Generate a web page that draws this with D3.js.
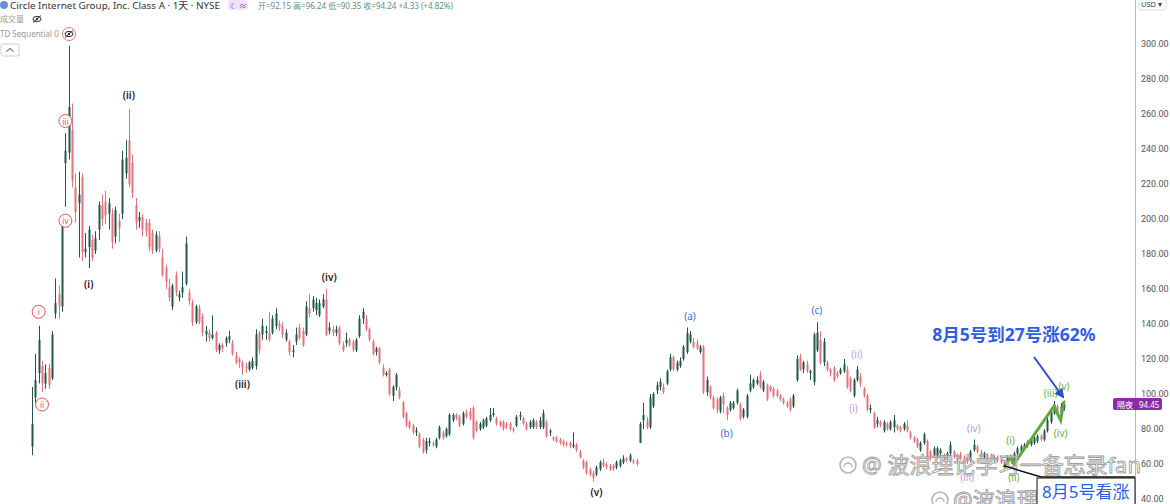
<!DOCTYPE html>
<html><head><meta charset="utf-8">
<script src="https://cdn.jsdelivr.net/npm/d3@7/dist/d3.min.js"></script>
<style>
html,body{margin:0;padding:0;background:#fff;overflow:hidden}
svg{display:block;font-family:"Noto Sans","Noto Sans CJK SC",sans-serif}
</style></head><body>
<svg id="c" width="1170" height="504"></svg>
<script>
// ---- data (daily OHLC) ----
const opens = [70,98,112,116,106,115,109,146,157,150,232,238,251,218,209,224,181,184,188,182,194,208,210,203,203,190,199,203,226,245,232,
208,199,201,198,198,192,182,190,178,172,161,150,168,155,158,163,158,152,141,149,144,134,135,132,135,125,128,129,131,129,122,
120,118,116,114,115,116,135,134,135,135,135,139,140,139,131,130,124,130,138,136,134,149,149,148,145,150,154,136,137,135,138,128,
129,131,130,125,133,143,143,137,130,124,126,115,111,114,99,104,102,95,89,84,82,78,77,74,68,72,72,70,75,78,76,
77,85,88,87,83,89,90,92,84,80,81,82,85,88,86,84,84,83,83,80,82,87,86,83,81,81,84,81,81,84,78,75,75,74,73,72,72,70,71,67,62,61,57,55,54,57,61,60,59,59,58,59,61,63,62,62,62,
72,85,85,81,93,102,104,104,106,114,121,114,116,120,124,130,130,129,124,127,101,104,98,97,90,99,92,91,92,95,94,87,87,102,104,106,111,102,105,104,103,102,99,97,95,97,93,108,121,114,117,112,107,125,131,118,118,114,115,112,112,113,
114,109,99,108,110,103,99,91,89,83,84,79,83,80,81,82,81,80,82,78,75,74,68,72,73,67,65,64,66,65,64,66,67,65,66,64,63,62,68,70,67,64,65,65,64,64,63,61,61,63,62,66,67,69,73,71,72,73,76,74,79,84,89,93,89,92.15];
const highs = [104,123,139,119,117,117,136,166,162,200,249,299,266,226,227,226,192,196,191,193,210,214,216,212,206,207,203,239,245,263,237,
212,204,203,200,200,194,193,193,183,174,166,163,170,159,170,190,160,154,151,151,146,139,137,145,136,129,129,133,136,131,124,
121,119,118,119,121,137,136,143,139,147,145,149,142,141,137,131,128,138,140,138,153,157,156,155,154,157,160,141,139,139,139,130,
135,132,131,132,145,149,145,138,131,127,127,117,113,115,105,112,104,96,90,85,83,81,78,75,75,75,73,75,82,79,81,
89,89,89,88,90,91,92,93,85,84,86,87,92,92,87,85,85,84,84,81,88,90,87,84,85,86,85,87,91,85,80,76,76,75,74,73,73,78,72,68,63,62,58,56,59,62,63,61,60,60,62,63,65,64,66,63,63,
84,95,87,100,101,107,109,106,114,123,122,119,121,128,138,136,132,131,128,128,110,105,99,98,99,101,93,96,96,103,95,92,100,111,109,110,113,108,106,105,104,103,100,98,96,98,100,122,123,119,119,114,135,141,136,132,119,115,116,113,115,120,
116,110,109,116,112,104,100,94,90,87,85,85,84,85,88,83,82,84,85,79,76,75,73,78,74,68,70,70,69,66,67,73,68,66,67,65,64,68,74,71,68,67,66,66,65,65,64,62,65,64,67,70,71,72,74,75,76,77,77,80,87,91,96,94,95,96.24];
const lows = [65,95,106,101,103,103,108,143,143,147,207,234,218,198,178,176,178,172,176,180,188,196,197,194,183,186,187,200,223,218,212,
194,195,190,190,182,180,181,181,167,160,153,148,156,153,155,162,151,139,140,140,133,130,130,131,124,123,124,127,129,122,117,
115,111,112,113,114,114,123,131,131,130,134,137,136,132,130,122,121,128,131,127,133,144,147,145,144,149,133,134,133,133,128,124,
127,127,124,124,132,140,136,130,122,122,117,110,110,99,96,102,97,86,81,80,77,76,69,66,66,70,70,69,74,74,75,
76,84,85,81,82,86,85,74,78,79,80,81,84,87,82,81,79,80,79,78,81,85,82,79,80,80,80,80,80,75,76,73,72,71,70,70,69,69,67,63,57,54,53,50,53,56,58,57,56,56,57,58,60,61,61,60,59,
72,80,80,80,92,100,102,100,105,113,113,113,115,119,123,129,126,125,123,100,99,97,91,89,89,89,85,90,91,94,85,86,86,101,103,105,103,101,96,101,98,98,96,94,92,90,92,107,113,112,112,108,105,124,117,116,113,110,107,109,111,112,
103,101,98,107,104,98,90,89,80,81,81,78,79,79,78,79,78,79,78,74,72,69,67,71,62,62,64,63,65,62,63,65,63,61,62,60,60,61,67,66,63,63,62,62,61,61,60,57,60,60,61,65,66,68,69,70,71,72,73,73,78,83,88,87,88,90.35];
const closes = [83,108,131,106,112,105,134,152,150,199,239,264,222,204,214,181,183,194,178,189,208,200,202,209,187,205,195,234,235,220,215,
198,201,194,193,184,182,191,183,168,164,155,162,158,157,161,186,153,141,150,141,135,136,132,134,125,128,126,132,133,123,118,
118,115,115,118,119,134,125,139,136,131,143,146,138,134,135,124,125,134,132,128,150,146,154,152,152,154,134,138,135,137,129,125,
131,128,125,131,143,147,137,131,123,126,118,111,112,100,104,111,98,87,82,81,78,79,70,67,73,73,71,74,81,75,80,
88,88,86,82,89,87,86,75,79,83,85,86,88,89,83,82,80,81,80,79,87,88,83,80,84,85,81,85,89,76,79,74,73,72,71,71,70,71,68,64,58,55,54,52,58,61,59,58,57,57,61,62,63,62,65,61,60,
83,88,81,98,100,105,107,101,113,121,114,118,119,127,135,134,127,126,127,101,108,98,92,91,98,94,88,95,95,102,86,91,99,106,108,108,104,107,97,102,99,99,97,95,93,91,99,120,114,118,113,113,134,135,118,130,114,112,108,110,114,117,
104,102,108,114,106,99,91,92,81,85,82,84,80,84,85,80,79,83,79,75,73,70,72,77,63,63,69,69,68,63,66,71,64,62,63,61,61,67,71,67,64,66,63,63,62,62,61,58,64,61,66,69,70,71,70,74,75,76,74,79,85,90,94,89,93,94.24];

const yTicks = [40,60,80,100,120,140,160,180,200,220,240,260,280,300];

const blackLabels = [
  {t:"(i)", i:17, v:162}, {t:"(ii)", i:29, v:270}, {t:"(iii)", i:63, v:105},
  {t:"(iv)", i:89, v:166}, {t:"(v)", i:169, v:43}
];
const redCircled = [
  {t:"i", i:2, v:147}, {t:"ii", i:3, v:94}, {t:"iii", i:10, v:256}, {t:"iv", i:10, v:199}
];
const blueLabels = [{t:"(a)", i:197, v:144}, {t:"(b)", i:208, v:77}, {t:"(c)", i:235, v:147}];
const purpleLabels = [
  {t:"(ii)", i:247, v:122}, {t:"(i)", i:246, v:91}, {t:"(iv)", i:282, v:80}, {t:"(iii)", i:280, v:52}
];
const greenLabels = [
  {t:"(i)", i:293, v:73}, {t:"(ii)", i:294, v:52}, {t:"(iii)", i:305, v:100},
  {t:"(iv)", i:308, v:77}, {t:"(v)", i:309, v:104}
];
// wave path (index, price)
const wavePath = [[291,58],[293,64],[294,60],[306,93],[308,85],[309,96]];

// ---- drawing ----
const svg = d3.select("#c");
const W = 1170, H = 504;
const n = closes.length;
const x = d3.scaleLinear().domain([0, n - 1]).range([32, 1064]);
const y = d3.scaleLinear().domain([40, 300]).range([499, 44]);
const upC = "#22574a", dnC = "#e3727b";

// candles
const g = svg.append("g");
const idx = d3.range(n);
g.selectAll("line.w").data(idx).join("line")
  .attr("x1", i => Math.round(x(i)) + 0.5).attr("x2", i => Math.round(x(i)) + 0.5)
  .attr("y1", i => y(highs[i])).attr("y2", i => y(lows[i]))
  .attr("stroke", i => closes[i] >= opens[i] ? upC : dnC).attr("stroke-width", 1);
g.selectAll("rect.b").data(idx).join("rect")
  .attr("x", i => Math.round(x(i)) - 0.5).attr("width", 2)
  .attr("y", i => y(Math.max(opens[i], closes[i])))
  .attr("height", i => Math.max(1, Math.abs(y(opens[i]) - y(closes[i]))))
  .attr("fill", i => closes[i] >= opens[i] ? upC : dnC);

// right axis
svg.append("line").attr("x1", 1135.5).attr("x2", 1135.5).attr("y1", 0).attr("y2", H).attr("stroke", "#b8b8b8");
const ax = svg.append("g").attr("transform", "translate(1136,0)")
  .call(d3.axisRight(y).tickValues(yTicks).tickFormat(d3.format(".2f")).tickSize(0).tickPadding(5));
ax.select(".domain").remove();
ax.selectAll("text").attr("fill", "#555").attr("font-size", 9).attr("font-family", "Roboto, sans-serif");

// USD box
svg.append("rect").attr("x", 1139).attr("y", -3).attr("width", 27).attr("height", 13).attr("rx", 2)
  .attr("fill", "#fff").attr("stroke", "#ddd");
svg.append("text").attr("x", 1141).attr("y", 7).attr("font-size", 7.5).attr("fill", "#444").text("USD ▾");

// price label
svg.append("rect").attr("x", 1113).attr("y", 398).attr("width", 49).attr("height", 12).attr("rx", 2).attr("fill", "#8e2aa8");
svg.append("text").attr("x", 1117).attr("y", 407.5).attr("font-size", 8).attr("fill", "#fff").text("隔夜");
svg.append("text").attr("x", 1139).attr("y", 407.5).attr("font-size", 8).attr("fill", "#fff").text("94.45");

// header
svg.append("circle").attr("cx", 4).attr("cy", 5).attr("r", 4).attr("fill", "#6b8fd6");
svg.append("text").attr("x", 10).attr("y", 9).attr("font-size", 9.8).attr("fill", "#333")
  .attr("textLength", 210).attr("lengthAdjust", "spacingAndGlyphs")
  .text("Circle Internet Group, Inc. Class A · 1天 · NYSE");
svg.append("rect").attr("x", 228).attr("y", 0).attr("width", 20).attr("height", 10).attr("rx", 3).attr("fill", "#efe4f7");
svg.append("text").attr("x", 230).attr("y", 8.5).attr("font-size", 8).attr("fill", "#8e2aa8").text("☾ ≈");
svg.append("text").attr("x", 258).attr("y", 9).attr("font-size", 8).attr("fill", "#5e8f7d")
  .text("开=92.15 高=96.24 低=90.35 收=94.24 +4.33 (+4.82%)");
svg.append("text").attr("x", 0).attr("y", 22).attr("font-size", 8).attr("fill", "#999").text("成交量");
svg.append("text").attr("x", 0).attr("y", 37).attr("font-size", 8).attr("fill", "#999").text("TD Sequential 0");
function eye(cx, cy) {
  svg.append("ellipse").attr("cx", cx).attr("cy", cy).attr("rx", 4).attr("ry", 2.6).attr("fill", "none").attr("stroke", "#333").attr("stroke-width", 1);
  svg.append("circle").attr("cx", cx).attr("cy", cy).attr("r", 1.2).attr("fill", "#333");
  svg.append("line").attr("x1", cx - 4).attr("y1", cy + 3.5).attr("x2", cx + 4).attr("y2", cy - 3.5).attr("stroke", "#333");
}
eye(37, 19);
svg.append("circle").attr("cx", 69).attr("cy", 34).attr("r", 6.5).attr("fill", "#fff").attr("stroke", "#e07a7a");
eye(69, 34);
svg.append("rect").attr("x", 1).attr("y", 44).attr("width", 18).attr("height", 12).attr("rx", 2).attr("fill", "#fff").attr("stroke", "#ccc");
svg.append("path").attr("d", "M6.5,51.5 L10,48.5 L13.5,51.5").attr("fill", "none").attr("stroke", "#333");

// labels
function labels(arr, col, size, weight) {
  svg.selectAll(null).data(arr).join("text")
    .attr("x", d => x(d.i)).attr("y", d => y(d.v)).attr("text-anchor", "middle").attr("dominant-baseline", "middle")
    .attr("font-size", size).attr("font-weight", weight).attr("fill", col).text(d => d.t);
}
labels(blackLabels, "#222", 10, 600);
labels(blueLabels, "#3f6fe0", 10, 400);
labels(purpleLabels, "#c49ad8", 10, 400);
labels(greenLabels, "#6aae4c", 10, 400);
redCircled.forEach(d => {
  svg.append("circle").attr("cx", x(d.i)).attr("cy", y(d.v)).attr("r", 6.5).attr("fill", "#fff").attr("stroke", "#e0555d");
  svg.append("text").attr("x", x(d.i)).attr("y", y(d.v)).attr("text-anchor", "middle").attr("dominant-baseline", "central")
    .attr("font-size", 8).attr("fill", "#e0555d").text(d.t);
});

// green wave path
svg.append("path").attr("d", d3.line().x(d => x(d[0])).y(d => y(d[1]))(wavePath))
  .attr("fill", "none").attr("stroke", "#5faa3f").attr("stroke-width", 3).attr("stroke-linejoin", "miter");

// blue title + arrow
svg.append("text").attr("x", 1014).attr("y", 341).attr("text-anchor", "middle").attr("font-size", 17.5).attr("font-weight", 700)
  .attr("fill", "#2f5ee0").text("8月5号到27号涨62%");
svg.append("defs").append("marker").attr("id", "ah").attr("viewBox", "0 0 10 10").attr("refX", 8).attr("refY", 5)
  .attr("markerWidth", 5).attr("markerHeight", 5).attr("orient", "auto")
  .append("path").attr("d", "M0,0 L10,5 L0,10 z").attr("fill", "#2f4fd0");
svg.append("line").attr("x1", 1034).attr("y1", 357).attr("x2", 1063).attr("y2", 397)
  .attr("stroke", "#2f4fd0").attr("stroke-width", 2).attr("marker-end", "url(#ah)");

// watermark
const wm = svg.append("g").attr("font-size", 22).attr("fill", "rgba(255,255,255,0.55)").attr("stroke", "#a0a0a0").attr("stroke-width", 0.9);
wm.append("text").attr("x", 862).attr("y", 473).text("@ 波浪理论学习一备忘录fan");
wm.append("text").attr("x", 953).attr("y", 508).text("@波浪理论学习");
function logo(cx, cy) {
  svg.append("circle").attr("cx", cx).attr("cy", cy).attr("r", 8).attr("fill", "none").attr("stroke", "#b5b5b5").attr("stroke-width", 1.6);
  svg.append("path").attr("d", `M${cx - 4},${cy + 2} a4,4 0 1,1 8,0`).attr("fill", "none").attr("stroke", "#b5b5b5").attr("stroke-width", 1.4);
}
logo(848, 465);
logo(940, 500);

// black callout
svg.append("path").attr("d", `M${x(291)},${y(59)} L1041,477 L1135,477`).attr("fill", "none").attr("stroke", "#111").attr("stroke-width", 1.5);
svg.append("rect").attr("x", 1037).attr("y", 478).attr("width", 98).attr("height", 30).attr("fill", "#fff").attr("stroke", "#111");
svg.append("text").attr("x", 1042).attr("y", 498).attr("font-size", 17).attr("fill", "#2f5ee0").text("8月5号看涨");
</script>
</body></html>
